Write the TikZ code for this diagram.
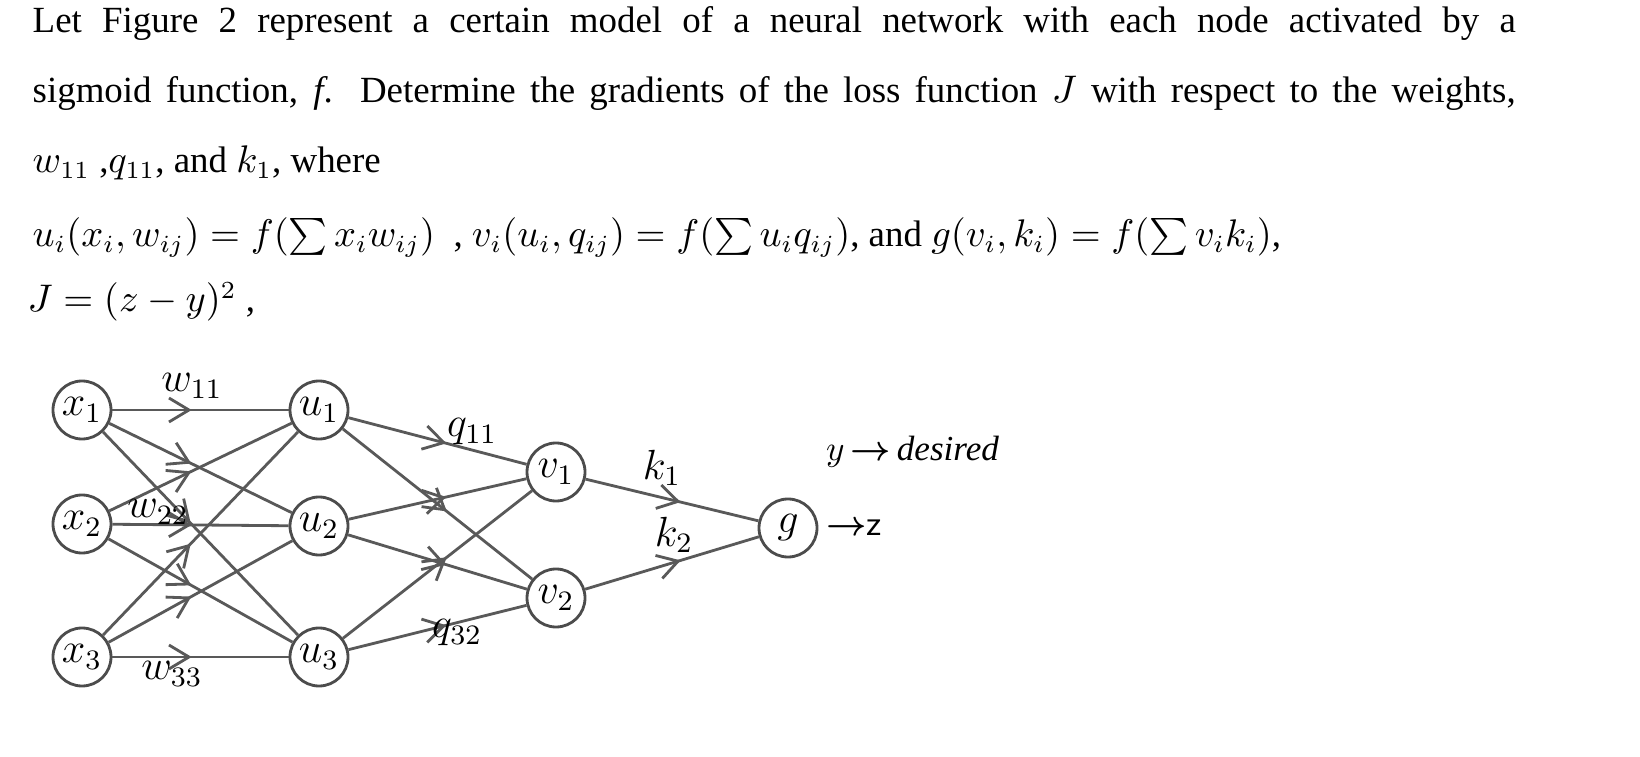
\documentclass[tikz,border=0pt]{standalone}
\usepackage{amsmath,amssymb,bm}
\usepackage{fontspec}
\setmainfont{Liberation Serif}
\usetikzlibrary{arrows.meta,decorations.markings}
\begin{document}
\begin{tikzpicture}[x=1cm,y=1cm,
  neuron/.style={circle,draw=black!70,thick,minimum size=0.58cm,inner sep=0pt,font=\large},
  edge/.style={draw=black!65,thick,postaction={decorate},
    decoration={markings,mark=at position #1 with {\arrow[black!65]{Straight Barb[length=2mm,width=2.4mm]}}}},
  edge/.default=0.45,
  lab/.style={font=\large,inner sep=1pt},
  txt/.style={anchor=base west,inner sep=0pt,font=\fontsize{10.5pt}{19.9pt}\selectfont}]
\useasboundingbox (0,0) rectangle (16.4,-7.57);
\node[txt,text width=14.83cm,align=justify,anchor=north west] (p) at (0.32,-0.06)
 {Let Figure 2 represent a certain model of a neural network with each node activated by a\linebreak
  sigmoid function, \textit{f}. Determine the gradients of the loss function $J$ with respect to the weights,\linebreak
  $w_{11}$ ,$q_{11}$, and $k_1$, where};
\node[txt] (l4) at (0.32,-2.47) {$u_i(x_i,w_{ij})=f(\sum x_i w_{ij})$\ \ , $v_i(u_i,q_{ij})=f(\sum u_i q_{ij})$, and $g(v_i,k_i)=f(\sum v_i k_i)$,};
\node[txt] (l5) at (0.27,-3.12) {$J=(z-y)^2$ ,};
\node[neuron] (x1) at (0.82,-4.10) {$x_1$};
\node[neuron] (x2) at (0.82,-5.24) {$x_2$};
\node[neuron] (x3) at (0.82,-6.57) {$x_3$};
\node[neuron] (u1) at (3.19,-4.10) {$u_1$};
\node[neuron] (u2) at (3.19,-5.26) {$u_2$};
\node[neuron] (u3) at (3.19,-6.57) {$u_3$};
\node[neuron] (v1) at (5.56,-4.72) {$v_1$};
\node[neuron] (v2) at (5.56,-5.98) {$v_2$};
\node[neuron] (g) at (7.88,-5.28) {$g$};
\foreach \a in {x1,x2,x3}{\foreach \b in {u1,u2,u3}{\path[edge] (\a) -- (\b);}}
\foreach \a in {u1,u2,u3}{\foreach \b in {v1,v2}{\path[edge=0.55] (\a) -- (\b);}}
\path[edge=0.55] (v1) -- (g);
\path[edge=0.55] (v2) -- (g);
\node[lab] (w11) at (1.92,-3.86) {$w_{11}$};
\node[lab] (w22) at (1.58,-5.12) {$w_{22}$};
\node[lab] (w33) at (1.72,-6.74) {$w_{33}$};
\node[lab] (q11) at (4.72,-4.32) {$q_{11}$};
\node[lab] (q32) at (4.57,-6.33) {$q_{32}$};
\node[lab] (k1) at (6.62,-4.68) {$k_1$};
\node[lab] (k2) at (6.74,-5.35) {$k_2$};
\node[anchor=west,inner sep=1pt] (yd) at (8.22,-4.52) {$y$\,$\bm{\rightarrow}$\,\textit{desired}};
\node[anchor=west,inner sep=1pt] (z) at (8.22,-5.28) {$\bm{\rightarrow}$\textsf{z}};
\end{tikzpicture}
\end{document}
